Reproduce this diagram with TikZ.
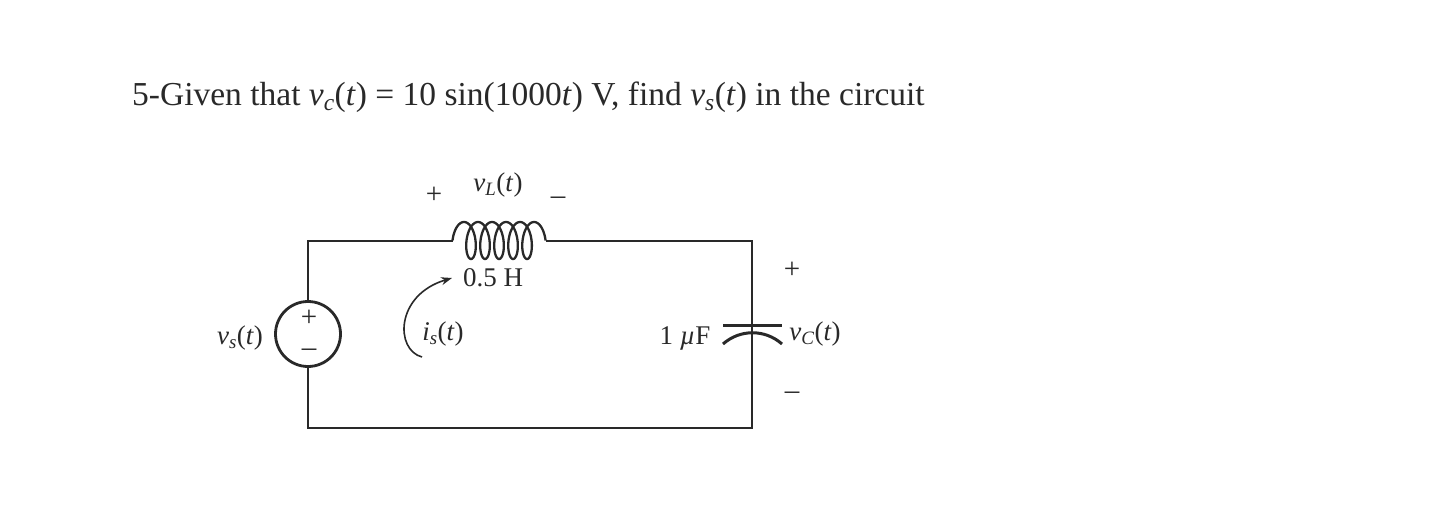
\documentclass[tikz,border=0pt]{standalone}
\usepackage{fix-cm}
\usepackage{fontspec}
\setmainfont{Liberation Serif}
\usetikzlibrary{arrows.meta}
\definecolor{ink}{gray}{0.16}
\begin{document}
\begin{tikzpicture}[x=1pt,y=-1pt,
  wire/.style={line width=1.6pt,draw=ink},
  heavy/.style={line width=3pt,draw=ink},
  lbl/.style={inner sep=0pt,text=ink,font=\fontsize{27}{30}\selectfont},
  sign/.style={inner sep=0pt,text=ink,font=\fontsize{29}{30}\selectfont}]
\useasboundingbox (0,0) rectangle (1440,511);
\node[inner sep=0pt,anchor=base west,text=ink,font=\fontsize{33.5}{40}\selectfont] (title) at (132,105) {5-Given that \textit{v\textsubscript{c}}(\textit{t}) = 10 sin(1000\textit{t}) V, find \textit{v\textsubscript{s}}(\textit{t}) in the circuit};
\coordinate (tl) at (308,241);
\coordinate (tr) at (752,241);
\coordinate (br) at (752,428);
\coordinate (bl) at (308,428);
\coordinate (li) at (452.5,241);
\coordinate (lo) at (545.5,241);
\coordinate (cp) at (752,325);
\coordinate (cn) at (752,332);
\coordinate (pa) at (723,325);
\coordinate (pb) at (782,325);
\coordinate (qa) at (723,344);
\coordinate (qb) at (782,344);
\node[circle,draw=ink,line width=2.8pt,minimum size=65pt,inner sep=0pt] (src) at (308,334) {};
\draw[wire] (src.north) -- (tl) -- (li);
\draw[wire] (lo) -- (tr) -- (cp);
\draw[wire] (cp) -- (cn) -- (br) -- (bl) -- (src.south);
\draw[heavy,line width=2.3pt,line join=round] plot[domain=-90:1890,samples=320,smooth] ({464+2.23*\x*3.14159/180+8*sin(\x)},{240.5-18.5*cos(\x)});
\draw[heavy] (pa) -- (pb);
\draw[heavy] (qa) .. controls (740,329) and (765,329) .. (qb);
\node[sign] (p1) at (434,195) {+};
\node[sign] (m1) at (558,201) {–};
\node[lbl] (vl) at (498,185) {\textit{v\textsubscript{L}}(\textit{t})};
\node[lbl] (h) at (493,278) {0.5 H};
\node[lbl] (vs) at (240,338) {\textit{v\textsubscript{s}}(\textit{t})};
\node[sign] (sp) at (309,318) {+};
\node[sign] (sm) at (309,353) {–};
\node[lbl] (is) at (443,334) {\textit{i}\textsubscript{\textit{s}}(\textit{t})};
\node[lbl] (uf) at (685,338) {1 \textit{µ}F};
\node[lbl] (vc) at (815,334) {\textit{v\textsubscript{C}}(\textit{t})};
\node[sign] (cpp) at (792,270) {+};
\node[sign] (cmm) at (792,396) {–};
\coordinate (a0) at (422,357);
\coordinate (a1) at (452,278);
\draw[wire,-{Stealth[length=11pt,width=8pt]}] (a0) .. controls (395,350) and (395,295) .. (a1);
\end{tikzpicture}
\end{document}
